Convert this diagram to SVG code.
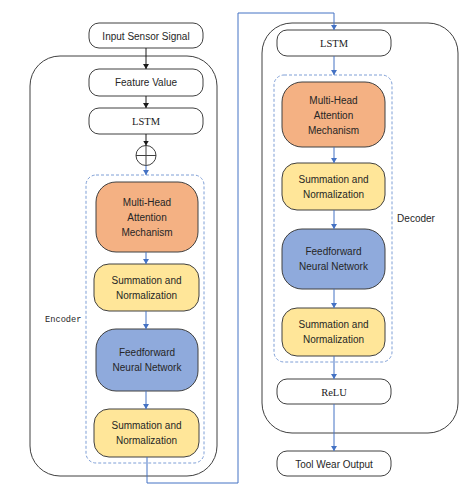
<svg xmlns="http://www.w3.org/2000/svg" width="474" height="491" viewBox="0 0 474 491">
<style>
.box{fill:#fff;stroke:#404040;stroke-width:1}
.outer{fill:none;stroke:#404040;stroke-width:1}
.dash{fill:none;stroke:#7f9fd6;stroke-width:1;stroke-dasharray:3,2}
.mha{fill:#f4b183;stroke:#404040;stroke-width:1}
.sum{fill:#ffe699;stroke:#404040;stroke-width:1}
.ffn{fill:#8faadc;stroke:#404040;stroke-width:1}
.t{font-family:"Liberation Sans","Noto Sans",sans-serif;font-size:10px;fill:#262626;text-anchor:middle}
.s{font-family:"Liberation Serif",serif;font-size:10.5px;fill:#1a1a1a;text-anchor:middle}
.m{font-family:"Liberation Mono",monospace;font-size:8.7px;fill:#262626}
.bk{fill:none;stroke:#1a1a1a;stroke-width:1}
.bl{fill:none;stroke:#4472c4;stroke-width:1}
</style>
<defs>
<marker id="ab" markerWidth="6" markerHeight="6" refX="5" refY="3" orient="auto" markerUnits="userSpaceOnUse"><path d="M0,0 L5,3 L0,6 Z" fill="#1a1a1a"/></marker>
<marker id="au" markerWidth="6" markerHeight="6" refX="5" refY="3" orient="auto" markerUnits="userSpaceOnUse"><path d="M0,0 L5,3 L0,6 Z" fill="#4472c4"/></marker>
</defs>
<rect width="474" height="491" fill="#fff"/>

<g id="encoder">
<rect class="outer" x="30" y="56" width="187" height="420" rx="30"/>
<rect class="dash" x="86" y="175" width="118" height="288" rx="10"/>
<text class="m" x="45" y="322">Encoder</text>
</g>
<g id="decoder">
<rect class="outer" x="262" y="23" width="196" height="410" rx="30"/>
<rect class="dash" x="274" y="75" width="118" height="287" rx="10"/>
<text class="t" x="416" y="222">Decoder</text>
</g>

<g id="input"><rect class="box" x="89" y="23" width="114" height="25" rx="10"/><text class="t" x="146" y="39.5">Input Sensor Signal</text></g>
<g id="feature"><rect class="box" x="89" y="69" width="114" height="27" rx="10"/><text class="t" x="146" y="86">Feature Value</text></g>
<g id="lstm-enc"><rect class="box" x="89" y="108" width="114" height="26" rx="10"/><text class="s" x="146" y="125">LSTM</text></g>
<g id="add"><circle cx="146" cy="155.5" r="10" fill="#fff" stroke="#404040"/><path d="M136,155.5 H156 M146,145.5 V165.5" stroke="#404040"/></g>
<g id="mha-enc"><rect class="mha" x="96" y="182" width="102" height="70" rx="20"/><text class="t" x="147" y="206">Multi-Head</text><text class="t" x="147" y="221">Attention</text><text class="t" x="147" y="236">Mechanism</text></g>
<g id="sum-enc1"><rect class="sum" x="94" y="264" width="105" height="47" rx="15"/><text class="t" x="146.5" y="284">Summation and</text><text class="t" x="146.5" y="299">Normalization</text></g>
<g id="ffn-enc"><rect class="ffn" x="96" y="329" width="102" height="62" rx="20"/><text class="t" x="147" y="356">Feedforward</text><text class="t" x="147" y="371">Neural Network</text></g>
<g id="sum-enc2"><rect class="sum" x="94" y="409" width="105" height="48" rx="15"/><text class="t" x="146.5" y="429">Summation and</text><text class="t" x="146.5" y="444">Normalization</text></g>

<g id="lstm-dec"><rect class="box" x="277" y="30" width="114" height="26" rx="10"/><text class="s" x="334" y="47">LSTM</text></g>
<g id="mha-dec"><rect class="mha" x="282" y="82" width="103" height="65" rx="20"/><text class="t" x="333.5" y="104">Multi-Head</text><text class="t" x="333.5" y="119">Attention</text><text class="t" x="333.5" y="134">Mechanism</text></g>
<g id="sum-dec1"><rect class="sum" x="282" y="163" width="103" height="47" rx="15"/><text class="t" x="333.5" y="183">Summation and</text><text class="t" x="333.5" y="198">Normalization</text></g>
<g id="ffn-dec"><rect class="ffn" x="282" y="229" width="103" height="60" rx="20"/><text class="t" x="333.5" y="255">Feedforward</text><text class="t" x="333.5" y="270">Neural Network</text></g>
<g id="sum-dec2"><rect class="sum" x="282" y="308" width="103" height="48" rx="15"/><text class="t" x="333.5" y="328">Summation and</text><text class="t" x="333.5" y="343">Normalization</text></g>
<g id="relu"><rect class="box" x="277" y="379" width="114" height="25" rx="10"/><text class="s" x="334" y="395.5">ReLU</text></g>
<g id="output"><rect class="box" x="277" y="451" width="114" height="25" rx="10"/><text class="t" x="334" y="467.5">Tool Wear Output</text></g>

<g id="connectors">
<path class="bk" d="M146,48 V69" marker-end="url(#ab)"/>
<path class="bk" d="M146,96 V108" marker-end="url(#ab)"/>
<path class="bk" d="M146,134 V145.5" marker-end="url(#ab)"/>
<path class="bl" d="M146,165.5 V175" marker-end="url(#au)"/>
<path class="bl" d="M146,252 V264" marker-end="url(#au)"/>
<path class="bl" d="M146,311 V329" marker-end="url(#au)"/>
<path class="bl" d="M146,391 V409" marker-end="url(#au)"/>
<path class="bl" d="M147,457 V483 H238 V13 H334 V30" marker-end="url(#au)"/>
<path class="bl" d="M334,56 V75" marker-end="url(#au)"/>
<path class="bl" d="M334,147 V163" marker-end="url(#au)"/>
<path class="bl" d="M334,210 V229" marker-end="url(#au)"/>
<path class="bl" d="M334,289 V308" marker-end="url(#au)"/>
<path class="bl" d="M334,356 V379" marker-end="url(#au)"/>
<path class="bl" d="M334,404 V451" marker-end="url(#au)"/>
</g>
</svg>
